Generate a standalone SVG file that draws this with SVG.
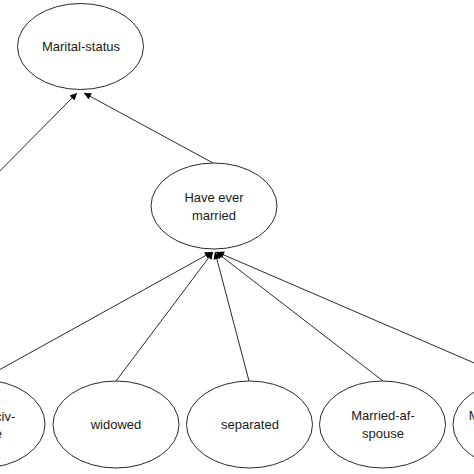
<svg xmlns="http://www.w3.org/2000/svg" width="474" height="474" viewBox="0 0 474 474">
<style>
.node ellipse{fill:#fff;stroke:#2a2a2a;stroke-width:1}
.node text{font-family:"Liberation Sans",Arial,sans-serif;font-size:13px;fill:#1a1a1a;text-anchor:middle}
.edges line{stroke:#2a2a2a;stroke-width:1}
</style>
<defs>
<marker id="arr" viewBox="0 0 10 10" refX="10" refY="5" markerWidth="8" markerHeight="7" markerUnits="userSpaceOnUse" orient="auto">
<path d="M0,0 L10,5 L0,10 z" fill="#000"/>
</marker>
</defs>
<rect width="474" height="474" fill="#fff"/>
<g class="edges">
<line x1="-25" y1="196" x2="77" y2="93" marker-end="url(#arr)"/>
<line x1="213" y1="163" x2="84" y2="93" marker-end="url(#arr)"/>
<line x1="-19" y1="380" x2="212" y2="252" marker-end="url(#arr)"/>
<line x1="116" y1="381" x2="213" y2="252" marker-end="url(#arr)"/>
<line x1="249" y1="381" x2="215" y2="252" marker-end="url(#arr)"/>
<line x1="383" y1="381" x2="216" y2="252" marker-end="url(#arr)"/>
<line x1="516" y1="381" x2="217" y2="252" marker-end="url(#arr)"/>
</g>
<g id="marital-status" class="node">
<ellipse cx="80.5" cy="46.5" rx="63" ry="43"/>
<text x="81" y="51">Marital-status</text>
</g>
<g id="have-ever-married" class="node">
<ellipse cx="214" cy="206" rx="63" ry="43"/>
<text x="214" y="202">Have ever</text>
<text x="214" y="220">married</text>
</g>
<g id="married-civ-spouse" class="node">
<ellipse cx="-18" cy="424" rx="63" ry="44"/>
<text x="-19" y="421">Married-civ-</text>
<text x="-19" y="438">spouse</text>
</g>
<g id="widowed" class="node">
<ellipse cx="116" cy="424.5" rx="63" ry="43.5"/>
<text x="116" y="429">widowed</text>
</g>
<g id="separated" class="node">
<ellipse cx="249.5" cy="424.5" rx="63" ry="43.5"/>
<text x="250" y="429">separated</text>
</g>
<g id="married-af-spouse" class="node">
<ellipse cx="382.5" cy="424.5" rx="63" ry="43.5"/>
<text x="383" y="420">Married-af-</text>
<text x="383" y="438">spouse</text>
</g>
<g id="married-spouse-absent" class="node">
<ellipse cx="516" cy="424.5" rx="63" ry="43.5"/>
<text x="516" y="420">Married-spouse-</text>
<text x="516" y="438">absent</text>
</g>
</svg>
